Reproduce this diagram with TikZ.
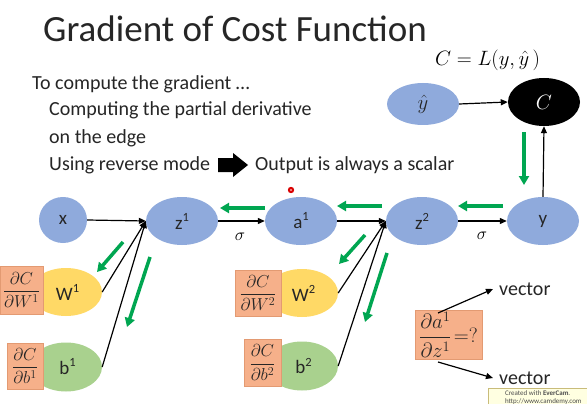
\documentclass[tikz,border=0pt]{standalone}
\usepackage{amsmath}
\usepackage{fontspec}
\setmainfont{Carlito}
\usetikzlibrary{arrows.meta,shapes.geometric}
\definecolor{nblue}{HTML}{8FAADC}
\definecolor{nyellow}{HTML}{FFD966}
\definecolor{ngreen}{HTML}{A9D18E}
\definecolor{nbox}{HTML}{F6B08A}
\definecolor{nboxline}{HTML}{E39A72}
\definecolor{garrow}{HTML}{00A651}
\definecolor{txt}{HTML}{262626}
\definecolor{wmfill}{HTML}{FFFFE1}
\definecolor{wmline}{HTML}{C9BC7A}
\newcommand{\mysup}[1]{\raisebox{0.42em}{\fontsize{12.5}{12.5}\selectfont #1}}
\tikzset{
  ell/.style={ellipse, inner sep=0pt, text=txt, font=\fontsize{19}{19}\selectfont},
  bnode/.style={ell, fill=nblue},
  ynode/.style={ell, fill=nyellow, minimum width=72pt, minimum height=48pt},
  gnode/.style={ell, fill=ngreen, minimum width=72pt, minimum height=49pt},
  rownode/.style={bnode, minimum width=72pt, minimum height=48pt},
  fbox/.style={rectangle, fill=nbox, draw=nboxline, line width=0.5pt, inner sep=0pt, text=black!85, font=\fontsize{18.5}{18.5}\selectfont},
  arr/.style={line width=1.2pt, -{Triangle[length=7pt,width=6pt]}},
  garr/.style={line width=3.5pt, draw=garrow, -{Triangle[length=9pt,width=10pt]}},
  body/.style={anchor=base west, inner sep=0pt, text=txt, font=\fontsize{20}{20}\selectfont},
}
\begin{document}
\begin{tikzpicture}[x=1pt,y=-1pt]
\useasboundingbox (0,0) rectangle (587,404);
\clip (0,0) rectangle (587,404);
\fill[white] (0,0) rectangle (587,404);

% title and text
\node[anchor=base west, inner sep=0pt, text=txt, font=\fontsize{37}{37}\selectfont] (title) at (43,42) {Gradient of Cost Function};
\node[anchor=base west, inner sep=0pt, font=\fontsize{20}{20}\selectfont] (cl) at (435,66) {$C = L(y,\hat{y}\,)$};
\node[body] (t1) at (32,90) {To compute the gradient \dots};
\node[body] (t2) at (49,116) {Computing the partial derivative};
\node[body] (t3) at (49,143) {on the edge};
\node[body] (t4) at (49,171) {Using reverse mode};
\node[body] (t5) at (255,171) {Output is always a scalar};
\fill[black] (218,158) -- (233,158) -- (233,153) -- (248,165) -- (233,177) -- (233,172) -- (218,172) -- cycle;

% top nodes
\node[bnode, minimum width=72pt, minimum height=42pt, font=\fontsize{20}{20}\selectfont] (yhat) at (423,104) {$\hat{y}$};
\node[ell, fill=black, text=white, minimum width=72pt, minimum height=48pt, font=\fontsize{20}{20}\selectfont] (C) at (544,102) {$C$};

% row
\node[bnode, minimum width=48pt, minimum height=46pt] (x) at (63,220) {x};
\node[rownode] (z1) at (182,221) {z\mysup{1}};
\node[rownode] (a1) at (301,221) {a\mysup{1}};
\node[rownode] (z2) at (422,221) {z\mysup{2}};
\node[rownode] (y) at (543,221) {y};

% parameters
\node[ynode] (W1) at (66,292) {\hspace*{3pt}W\mysup{1}};
\node[gnode] (b1) at (66,367) {\hspace*{3pt}b\mysup{1}};
\node[ynode] (W2) at (302,293) {\hspace*{3pt}W\mysup{2}};
\node[gnode] (b2) at (302,366) {\hspace*{3pt}b\mysup{2}};

\node[fbox, minimum width=43pt, minimum height=48pt] (dW1) at (21.5,290) {$\displaystyle\frac{\partial C}{\partial W^1}$};
\node[fbox, minimum width=36pt, minimum height=46pt] (db1) at (25,366) {$\displaystyle\frac{\partial C}{\partial b^1}$};
\node[fbox, minimum width=46pt, minimum height=46pt] (dW2) at (258,293) {$\displaystyle\frac{\partial C}{\partial W^2}$};
\node[fbox, minimum width=37pt, minimum height=47pt] (db2) at (262.5,362.5) {$\displaystyle\frac{\partial C}{\partial b^2}$};

% black connectors
\draw[arr] (yhat.east) -- (C.west);
\draw[arr] (y.north) -- (C.south);
\draw[arr] (x.east) -- (z1.west);
\draw[arr] (z1.east) -- (a1.west);
\draw[arr] (a1.east) -- (z2.west);
\draw[arr] (z2.east) -- (y.west);
\draw[arr] (W1.east) -- (z1.west);
\draw[arr] (b1.east) -- (z1.west);
\draw[arr] (W2.east) -- (z2.west);
\draw[arr] (b2.east) -- (z2.west);
\node[font=\fontsize{19}{19}\selectfont, inner sep=0pt] (s1) at (240,237) {$\sigma$};
\node[font=\fontsize{19}{19}\selectfont, inner sep=0pt] (s2) at (482,236) {$\sigma$};

% green backward arrows
\draw[garr] (265,208) -- (220,208);
\draw[garr] (382,206) -- (337,206);
\draw[garr] (503,206) -- (458,206);
\draw[garr] (524,132) -- (524,185);
\draw[garr] (123,242) -- (97,272);
\draw[garr] (150,257) -- (127,327);
\draw[garr] (365,235) -- (339,264);
\draw[garr] (387,253) -- (365,322);

% da/dz box
\node[fbox, minimum width=67pt, minimum height=49pt, font=\fontsize{20}{20}\selectfont] (dadz) at (448.5,334.5) {$\displaystyle\frac{\partial a^1}{\partial z^1}\!=?$};
\node[anchor=west, inner ysep=0pt, inner xsep=6pt, text=txt, font=\fontsize{20}{20}\selectfont] (v1) at (493,289) {vector};
\node[anchor=west, inner ysep=0pt, inner xsep=6pt, text=txt, font=\fontsize{20}{20}\selectfont] (v2) at (493,378) {vector};
\coordinate (va) at (438,313);
\coordinate (vb) at (438,362);
\draw[arr] (va) -- (v1.west);
\draw[arr] (vb) -- (v2.west);

% pointer dot and watermark
\fill[red!85!black] (291,190) circle (3.2pt);
\fill[red!35] (291,190) circle (1.2pt);
\node[anchor=north west, fill=wmfill, draw=wmline, line width=0.6pt, inner sep=2pt, align=left, text=black!70, font=\fontsize{7}{8}\selectfont, minimum width=110pt] (wm) at (488,388) {Created with \textbf{EverCam}.\\http://www.camdemy.com};
\end{tikzpicture}
\end{document}
